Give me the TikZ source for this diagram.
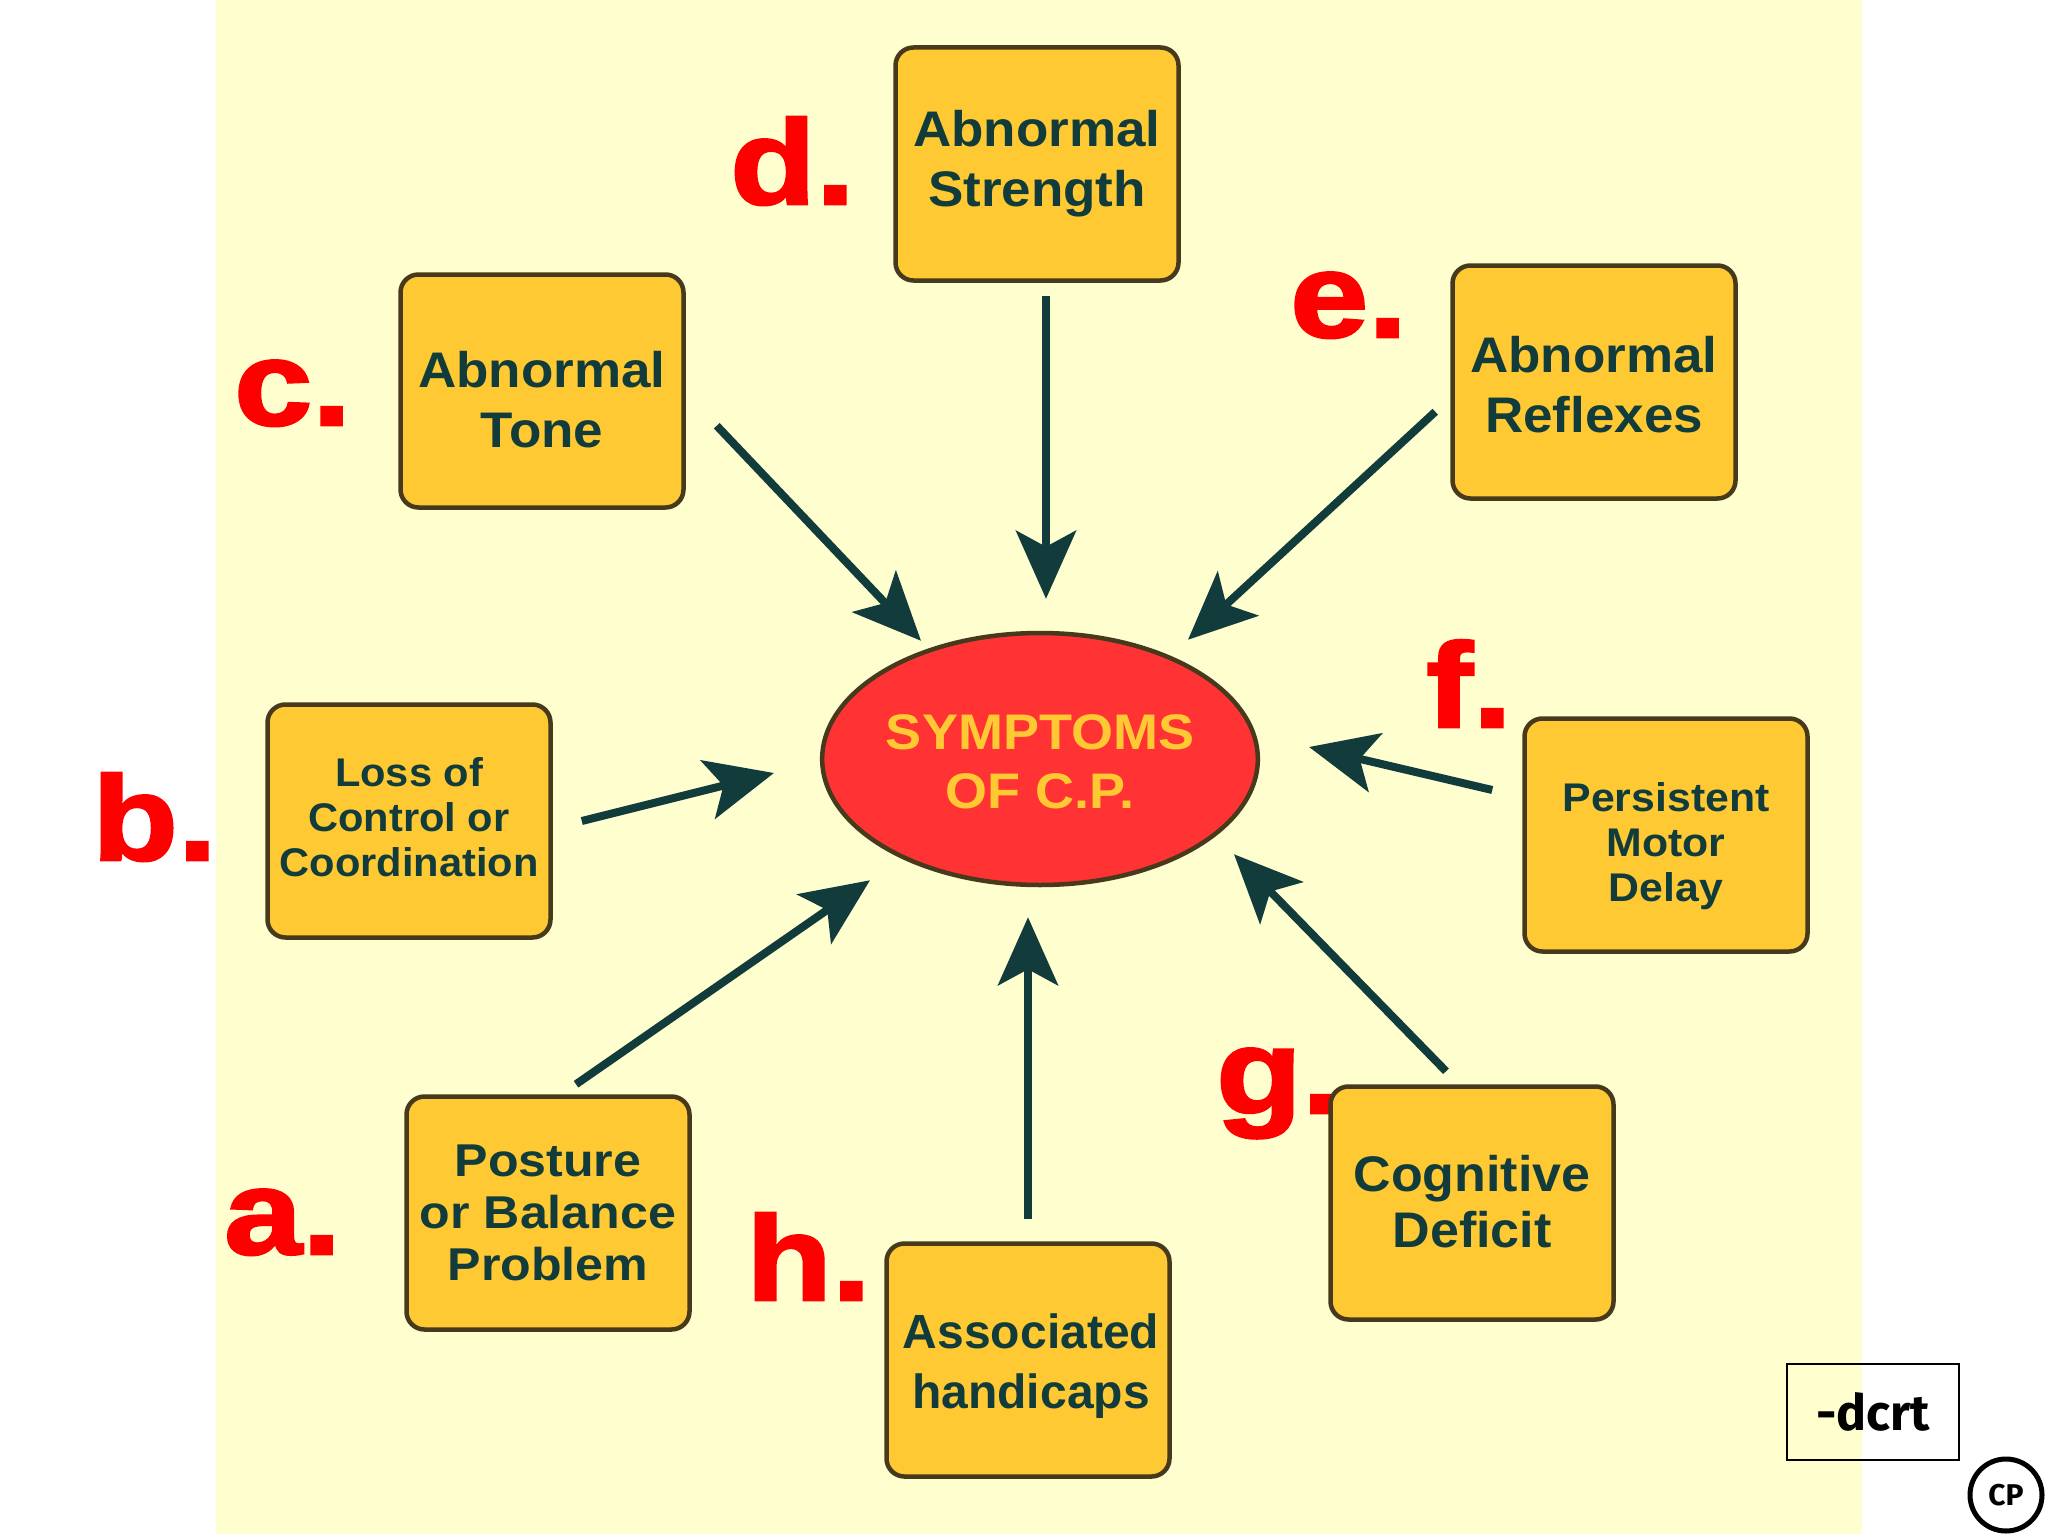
\documentclass[tikz,border=0pt]{standalone}
\usepackage{fontspec}
\setmainfont{Liberation Sans}
\newfontfamily\handfont{Fira Sans}
\newfontfamily\tagfont[FakeBold=2.2,FakeStretch=1.17]{Liberation Sans Bold}
\newcommand{\bx}[3]{\fontspec[FakeStretch=#1]{Liberation Sans Bold}\fontsize{#2}{#3}\selectfont}
\newcommand{\dn}[1]{\rule{0pt}{#1pt}}
\newcommand{\upby}[1]{\rule[-#1pt]{0pt}{1pt}}
\usetikzlibrary{arrows.meta,shapes.geometric}
\definecolor{bgy}{HTML}{FFFECF}
\definecolor{boxy}{HTML}{FFC933}
\definecolor{dk}{HTML}{123C3C}
\definecolor{edge}{HTML}{46391C}
\definecolor{redf}{HTML}{FF3333}
\definecolor{lbl}{HTML}{FF0000}
\tikzset{
  x=1pt,y=-1pt,
  sbox/.style={draw=edge,line width=4.5pt,fill=boxy,rounded corners=18pt,minimum width=283pt,minimum height=233pt,inner sep=0pt,align=center,text=dk},
  arr/.style={draw=dk,line width=8pt,-{Stealth[length=68pt,width=60pt,inset=16pt]}},
  tag/.style={text=lbl,font=\tagfont\fontsize{120}{120}\selectfont,inner sep=0pt,anchor=base west},
}
\begin{document}
\begin{tikzpicture}
\useasboundingbox (0,0) rectangle (2048,1536);
\fill[white] (0,0) rectangle (2048,1536);
\fill[bgy] (216,0) rectangle (1862,1534);
\node[tag] (ld) at (730,204) {d.};
\node[tag] (lc) at (234,425) {c.};
\node[tag] (le) at (1290,337) {e.};
\node[tag] (lb) at (92,860) {b.};
\node[tag] (lf) at (1426,727) {f.};
\node[tag] (la) at (224,1254) {a.};
\node[tag] (lg) at (1216,1113) {g.};
\node[tag] (lh) at (746,1300) {h.};
\node[ellipse,draw=edge,line width=4.5pt,fill=redf,minimum width=435pt,minimum height=252pt,inner sep=0pt,align=center,text=boxy,font=\bx{1.08}{50}{59}] (sym) at (1040,759) {\dn{41}SYMPTOMS\\OF C.P.};
\node[sbox,font=\bx{1.06}{50}{60}] (d) at (1037,164) {Abnormal\\Strength};
\node[sbox,font=\bx{1.06}{50}{60}] (c) at (542,391) {\dn{54}Abnormal\\Tone};
\node[sbox,font=\bx{1.06}{50}{60}] (e) at (1594,382) {\dn{42}Abnormal\\Reflexes};
\node[sbox,font=\bx{1.04}{40}{45}] (b) at (409,821) {Loss of\\Control or\\Coordination\upby{8}};
\node[sbox,font=\bx{1.07}{40}{45}] (f) at (1666,835) {\dn{52}Persistent\\Motor\\Delay};
\node[sbox,font=\bx{1.09}{46}{52}] (a) at (548,1213) {Posture\\or Balance\\Problem};
\node[sbox,font=\bx{1.04}{50}{56}] (g) at (1472,1203) {Cognitive\\Deficit\upby{4}};
\node[sbox,font=\bx{1.0}{48}{60}] (h) at (1028,1360) {\dn{47}\hspace*{6pt}Associated\\\hspace*{6pt}handicaps};
\draw[arr] ([shift={(9,13)}]d.south) -- ([shift={(6,-32)}]sym.north);
\draw[arr] ([shift={(31,-84)}]c.south east) -- ([shift={(-119,10)}]sym.north);
\draw[arr] ([shift={(-15,-89)}]e.south west) -- ([shift={(148,9)}]sym.north);
\draw[arr] ([shift={(29,0)}]b.east) -- ([shift={(-46,14)}]sym.west);
\draw[arr] ([shift={(-30,-45)}]f.west) -- ([shift={(49,-12)}]sym.east);
\draw[arr] ([shift={(28,-10)}]a.north) -- ([shift={(-170,-7)}]sym.south);
\draw[arr] ([shift={(-26,-13)}]g.north) -- ([shift={(194,-33)}]sym.south);
\draw[arr] ([shift={(0,-22)}]h.north) -- ([shift={(-12,30)}]sym.south);
\node[draw=black,line width=2.5pt,minimum width=172pt,minimum height=96pt,inner sep=0pt,font=\handfont\fontsize{50}{50}\selectfont\bfseries] (dc) at (1873,1412) {-dcrt};
\node[circle,draw=black,line width=5pt,minimum size=72pt,inner sep=0pt,font=\handfont\fontsize{30}{30}\selectfont\bfseries] (cp) at (2006,1495) {CP};
\end{tikzpicture}
\end{document}
